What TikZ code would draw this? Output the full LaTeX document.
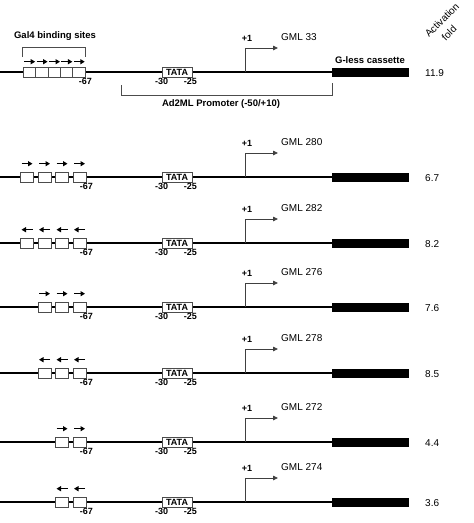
\documentclass[tikz,border=0pt]{standalone}
\usepackage{fontspec}
\setmainfont{Liberation Sans}
\usetikzlibrary{arrows.meta}

\begin{document}
\begin{tikzpicture}
  [x=1pt,y=-1pt,
   dna/.style={line width=1.8pt},
   site/.style={draw=black!70,fill=white,line width=0.6pt,minimum width=13pt,minimum height=10pt,inner sep=0pt},
   tata/.style={draw=black!70,fill=white,line width=0.6pt,minimum width=30pt,minimum height=10pt,inner sep=0pt,font=\bfseries\fontsize{9}{9}\selectfont},
   cassette/.style={fill=black,minimum width=77pt,minimum height=9pt,inner sep=0pt},
   orient/.style={-{Triangle[length=4.5pt,width=5pt]},line width=1.4pt},
   start/.style={-{Triangle[length=5pt,width=4.5pt]},line width=0.8pt,draw=black!75},
   bracket/.style={line width=0.7pt,draw=black!70},
   coordlbl/.style={font=\bfseries\fontsize{9}{9}\selectfont,inner sep=1pt},
   lbl/.style={font=\fontsize{10}{11}\selectfont,inner sep=0pt},
   head/.style={font=\bfseries\fontsize{9.5}{10}\selectfont,inner sep=0pt}]
  \useasboundingbox (0,0) rectangle (474,523);

  % construct GML 33
  \coordinate (s1) at (0,72);
  \node[cassette] (c1) at (370.5,72) {};
  \draw[dna] (s1) -- (c1.west);
  \foreach \k in {1,...,5}
    \node[site,minimum width=12.4pt] (b1\k) at ({29.2+(\k-1)*12.4},72) {};
  \foreach \k in {1,...,5}
    \draw[orient] ([xshift=-5pt,yshift=5pt]b1\k.north) -- ([xshift=6pt,yshift=5pt]b1\k.north);
  \node[coordlbl,anchor=north] (n671) at (b15.south east) {-67};
  \node[tata] (t1) at (177,72) {TATA};
  \node[coordlbl,anchor=north] (n301) at (t1.south west) {-30};
  \node[coordlbl,anchor=north] (n251) at ([xshift=-2pt]t1.south east) {-25};
  \coordinate (gl) at (22,57);
  \coordinate (gr) at (85,57);
  \draw[bracket] (gl) -- ++(0,-10) -| (gr);
  \node[head] (gal) at (55,36) {Gal4 binding sites};
  \coordinate (pl) at (121,85);
  \coordinate (pr) at (332,83);
  \draw[bracket] (pl) |- (332,95) -- (pr);
  \node[head] (prom) at (221,104) {Ad2ML Promoter (-50/+10)};
  \node[head] (gless) at (370,60) {G-less cassette};
  \coordinate (tss1) at (245,72);
  \coordinate (tip1) at (278,48);
  \draw[start] (tss1) |- (tip1);
  \node[coordlbl] (p1) at (247,38) {+1};
  \node[lbl,anchor=west] (g1) at (281,37) {GML 33};
  \node[lbl,anchor=west] (f1) at (425,73) {11.9};
  \node[lbl,rotate=45] (act) at (442,20) {Activation};
  \node[lbl,rotate=45] (fold) at (449,33) {fold};

  % deletion and inversion constructs
  \foreach \i/\y/\gml/\fold/\first/\d in {2/177/280/6.7/1/1,3/243/282/8.2/1/-1,4/307/276/7.6/2/1,
                                          5/373/278/8.5/2/-1,6/442/272/4.4/3/1,7/502/274/3.6/3/-1}
  {
    \coordinate (s\i) at (0,\y);
    \node[cassette] (c\i) at (370.5,\y) {};
    \draw[dna] (s\i) -- (c\i.west);
    \foreach \k in {\first,...,4}
    {
      \node[site] (b\i\k) at ({27+(\k-1)*17.5},\y) {};
      \draw[orient] ([xshift={-5.5pt*\d},yshift=8pt]b\i\k.north) -- ([xshift={5.5pt*\d},yshift=8pt]b\i\k.north);
    }
    \node[coordlbl,anchor=north] (n67\i) at (b\i4.south east) {-67};
    \node[tata] (t\i) at (177,\y) {TATA};
    \node[coordlbl,anchor=north] (n30\i) at (t\i.south west) {-30};
    \node[coordlbl,anchor=north] (n25\i) at ([xshift=-2pt]t\i.south east) {-25};
    \coordinate (tss\i) at (245,\y);
    \coordinate (tip\i) at (278,\y-24);
    \draw[start] (tss\i) |- (tip\i);
    \node[coordlbl] (p\i) at (247,\y-34) {+1};
    \node[lbl,anchor=west] (g\i) at (281,\y-35) {GML \gml};
    \node[lbl,anchor=west] (f\i) at (425,\y+1) {\fold};
  }
\end{tikzpicture}
\end{document}
